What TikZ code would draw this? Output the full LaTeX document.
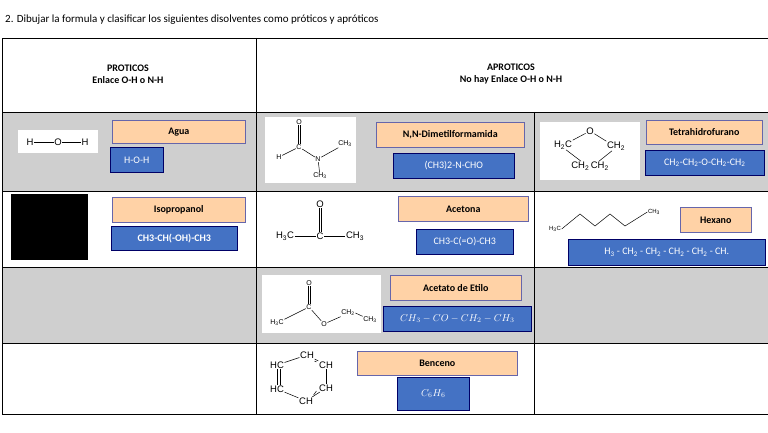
\documentclass[tikz,border=0pt]{standalone}
\usepackage{fontspec}
\setmainfont{Carlito}
\newfontfamily\arialf{Liberation Sans}
\begin{document}
\begin{tikzpicture}[x=1pt,y=-1pt,
 sal/.style={draw=black!55!blue!60, fill=orange!35!white, font=\bfseries\fontsize{10}{12}\selectfont, anchor=north west, inner sep=0pt, line width=0.6pt},
 blu/.style={draw=blue!40!black, fill=blue!55!cyan!55!black!95!white, fill=blueb, text=white, font=\fontsize{10}{12}\selectfont, anchor=north west, inner sep=0pt, line width=0.6pt},
 img/.style={fill=white, draw=none, anchor=north west, inner sep=0pt},
 ch/.style={font=\arialf\fontsize{7}{8}\selectfont, inner sep=0.5pt},
 chb/.style={font=\arialf\fontsize{9.5}{10}\selectfont, inner sep=0.5pt},
 bond/.style={line width=0.5pt},
 hdr/.style={font=\bfseries\fontsize{10}{12}\selectfont, align=center}]
\definecolor{blueb}{HTML}{4472C4}
\useasboundingbox (0,0) rectangle (768,433);
\fill[white] (0,0) rectangle (768,433);
% gray rows
\fill[black!19] (2,112) rectangle (768,191);
\fill[black!19] (2,267) rectangle (768,343);
% grid
\draw[line width=0.8pt] (2,38) rectangle (768,414);
\foreach \y in {112,191,267,343} \draw[line width=0.8pt] (2,\y) -- (768,\y);
\draw[line width=0.8pt] (256,38) -- (256,414);
\draw[line width=0.8pt] (534,112) -- (534,414);
% title
\node[anchor=west, font=\fontsize{11}{13}\selectfont, inner sep=0pt] (title) at (5,20) {2. Dibujar la formula y clasificar los siguientes disolventes como próticos y apróticos};
\node[hdr] (hp) at (128,74) {PROTICOS\\Enlace O-H o N-H};
\node[hdr] (ha) at (511,74) {APROTICOS\\No hay Enlace O-H o N-H};
% Agua
\node[img, minimum width=80, minimum height=23] (aguaimg) at (18,130) {};
\node[chb] (h1) at (30,142) {H};
\node[chb] (o1) at (58,142) {O};
\node[chb] (h2) at (85,142) {H};
\draw[bond] (h1) -- (o1); \draw[bond] (o1) -- (h2);
\node[sal, minimum width=133, minimum height=23] (agua) at (112,120) {Agua};
\node[blu, minimum width=53, minimum height=25] (aguaf) at (110,147) {H-O-H};
% Isopropanol
\node[fill=black, anchor=north west, minimum width=77, minimum height=66, inner sep=0pt] (isoimg) at (11,194) {};
\node[sal, minimum width=133, minimum height=25] (iso) at (112,197) {Isopropanol};
\node[blu, minimum width=126, minimum height=24, font=\bfseries\fontsize{10}{12}\selectfont] (isof) at (111,226) {CH3-CH(-OH)-CH3};
% DMF
\node[img, minimum width=91, minimum height=66] (dmfimg) at (265,117) {};
\node[ch] (d_o) at (299,122) {O};
\node[ch] (d_c) at (299,147) {C};
\node[ch] (d_h) at (279,157) {H};
\node[ch] (d_n) at (318,159) {N};
\node[ch] (d_m1) at (345,144) {CH\textsubscript{3}};
\node[ch] (d_m2) at (320,176) {CH\textsubscript{3}};
\draw[bond] ([xshift=-1pt]d_o.south) -- ([xshift=-1pt]d_c.north);
\draw[bond] ([xshift=1pt]d_o.south) -- ([xshift=1pt]d_c.north);
\draw[bond] (d_c) -- (d_h); \draw[bond] (d_c) -- (d_n);
\draw[bond] (d_n) -- (d_m1); \draw[bond] (d_n) -- (d_m2);
\node[sal, minimum width=148, minimum height=25] (dmf) at (376,122) {N,N-Dimetilformamida};
\node[blu, minimum width=121, minimum height=25] (dmff) at (393,153) {(CH3)2-N-CHO};
% THF
\node[img, minimum width=100, minimum height=58] (thfimg) at (540,122) {};
\node[chb] (t_o) at (590,131) {O};
\node[chb] (t_l) at (563,145) {H\textsubscript{2}C};
\node[chb] (t_r) at (616,146) {CH\textsubscript{2}};
\node[chb] (t_b) at (590,166) {CH\textsubscript{2}\,CH\textsubscript{2}};
\draw[bond] (t_o) -- (t_l.north east); \draw[bond] (t_o) -- (t_r.north west);
\draw[bond] ([xshift=3pt]t_l.south) -- ([xshift=-9pt]t_b.north);
\draw[bond] ([xshift=-4pt]t_r.south) -- ([xshift=9pt]t_b.north);
\node[sal, minimum width=116, minimum height=24] (thf) at (646,120) {Tetrahidrofurano};
\node[blu, minimum width=119, minimum height=25] (thff) at (645,150) {CH\textsubscript{2}-CH\textsubscript{2}-O-CH\textsubscript{2}-CH\textsubscript{2}};
% Acetona
\node[chb] (a_l) at (285,236) {H\textsubscript{3}C};
\node[chb] (a_c) at (320,236) {C};
\node[chb] (a_r) at (355,236) {CH\textsubscript{3}};
\node[chb] (a_o) at (320,204) {O};
\draw[bond] (a_l) -- (a_c); \draw[bond] (a_c) -- (a_r);
\draw[bond] ([xshift=-1.2pt]a_o.south) -- ([xshift=-1.2pt]a_c.north);
\draw[bond] ([xshift=1.2pt]a_o.south) -- ([xshift=1.2pt]a_c.north);
\node[sal, minimum width=130, minimum height=25] (acet) at (398,196) {Acetona};
\node[blu, minimum width=97, minimum height=25] (acetf) at (416,229) {CH3-C(=O)-CH3};
% Hexano
\node[ch, font=\arialf\fontsize{6}{7}\selectfont] (x_l) at (555,229) {H\textsubscript{3}C};
\node[ch, font=\arialf\fontsize{6}{7}\selectfont] (x_r) at (654,212) {CH\textsubscript{3}};
\coordinate (x1) at (580,214); \coordinate (x2) at (595,226); \coordinate (x3) at (610,214); \coordinate (x4) at (625,226);
\draw[bond] (x_l.east) -- (x1) -- (x2) -- (x3) -- (x4) -- (x_r.west);
\node[sal, minimum width=71, minimum height=25] (hex) at (680,207) {Hexano};
\node[blu, minimum width=197, minimum height=26] (hexf) at (568,239) {H\textsubscript{3} - CH\textsubscript{2} - CH\textsubscript{2} - CH\textsubscript{2} - CH\textsubscript{2} - CH.};
% Acetato
\node[img, minimum width=119, minimum height=58] (etimg) at (262,275) {};
\node[ch] (e_o) at (309,283) {O};
\node[ch] (e_c) at (309,307) {C};
\node[ch] (e_l) at (277,323) {H\textsubscript{3}C};
\node[ch] (e_o2) at (324,324) {O};
\node[ch] (e_ch2) at (348,313) {CH\textsubscript{2}};
\node[ch] (e_ch3) at (370,320) {CH\textsubscript{3}};
\draw[bond] ([xshift=-1pt]e_o.south) -- ([xshift=-1pt]e_c.north);
\draw[bond] ([xshift=1pt]e_o.south) -- ([xshift=1pt]e_c.north);
\draw[bond] (e_c) -- (e_l.north east); \draw[bond] (e_c) -- (e_o2);
\draw[bond] (e_o2) -- (e_ch2.south west); \draw[bond] (e_ch2.east) -- (e_ch3.north west);
\node[sal, minimum width=131, minimum height=25] (etil) at (390,275) {Acetato de Etilo};
\node[blu, minimum width=148, minimum height=25] (etilf) at (383,306) {$CH_3-CO-CH_2-CH_3$};
% Benceno
\node[chb] (b1) at (307,355) {CH};
\node[chb] (b2) at (326,365) {CH};
\node[chb] (b3) at (326,388) {CH};
\node[chb] (b4) at (306,401) {CH};
\node[chb] (b5) at (277,389) {HC};
\node[chb] (b6) at (277,365) {HC};
\draw[bond] (b1) -- (b2); \draw[bond] (b2) -- (b3); \draw[bond] (b3) -- (b4);
\draw[bond] (b4) -- (b5); \draw[bond] (b5) -- (b6); \draw[bond] (b6) -- (b1);
\draw[bond] ([xshift=3pt]b5.north) -- ([xshift=3pt]b6.south);
\draw[bond] ([yshift=-2pt]b1.south east) -- ([xshift=-2pt,yshift=-1pt]b2.north west);
\draw[bond] ([yshift=2pt]b4.north east) -- ([xshift=-2pt,yshift=1pt]b3.south west);
\node[sal, minimum width=160, minimum height=24] (benc) at (357,351) {Benceno};
\node[blu, minimum width=72, minimum height=33] (bencf) at (397,377) {$C_6H_6$};
\end{tikzpicture}
\end{document}
